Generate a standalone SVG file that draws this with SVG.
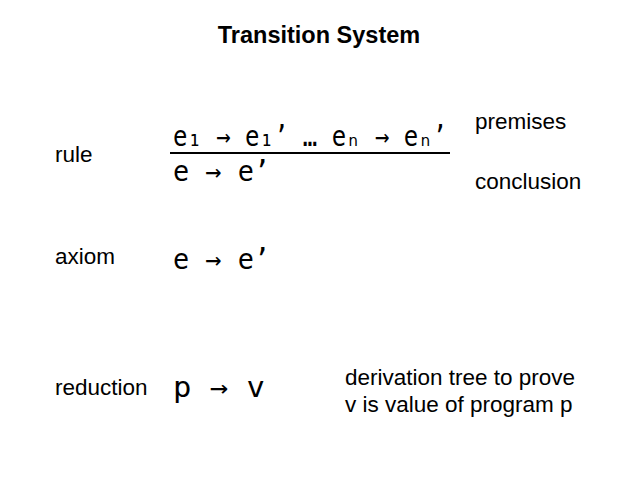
<svg xmlns="http://www.w3.org/2000/svg" width="638" height="479" viewBox="0 0 638 479">
<style>
.s{font-family:"Liberation Sans",Arial,sans-serif;font-size:22.5px;fill:#000}
.m{font-family:"DejaVu Sans Mono","Liberation Mono",monospace;font-size:28px;fill:#000}
.t{font-family:"Liberation Sans",Arial,sans-serif;font-size:23.5px;font-weight:bold;fill:#000}
</style>
<rect width="638" height="479" fill="#fff"/>
<text class="t" x="319" y="43" text-anchor="middle">Transition System</text>
<g id="rule">
<text class="s" x="55" y="162">rule</text>
<text class="m" x="173" y="146" textLength="274" lengthAdjust="spacingAndGlyphs">e₁ → e₁’ … eₙ → eₙ’</text>
<line x1="170" y1="153" x2="450" y2="153" stroke="#000" stroke-width="2"/>
<text class="m" x="173" y="181" textLength="97" lengthAdjust="spacingAndGlyphs">e → e’</text>
<text class="s" x="475" y="129">premises</text>
<text class="s" x="475" y="189">conclusion</text>
</g>
<g id="axiom">
<text class="s" x="55" y="264">axiom</text>
<text class="m" x="173" y="269" textLength="97" lengthAdjust="spacingAndGlyphs">e → e’</text>
</g>
<g id="reduction">
<text class="s" x="55" y="395">reduction</text>
<text class="m" x="173" y="397" textLength="92" lengthAdjust="spacingAndGlyphs">p → v</text>
<text class="s" x="345" y="385">derivation tree to prove</text>
<text class="s" x="345" y="412">v is value of program p</text>
</g>
<g id="connectors"/>
</svg>
